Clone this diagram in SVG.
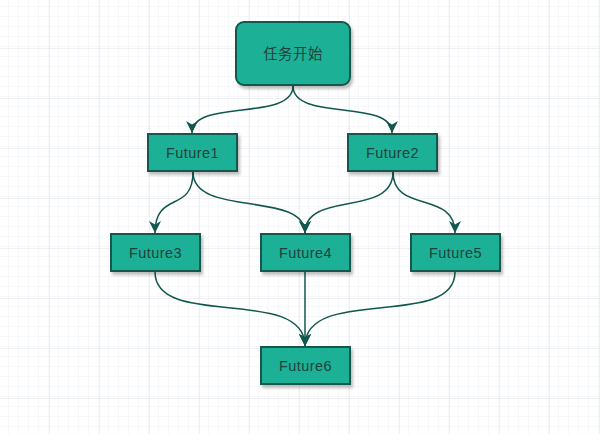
<svg xmlns="http://www.w3.org/2000/svg" width="600" height="434" viewBox="0 0 600 434">
  <defs>
    <pattern id="minor" width="10" height="10" patternUnits="userSpaceOnUse" x="-1" y="-2">
      <path d="M10,0 L0,0 0,10" fill="none" stroke="#f0f2f5" stroke-width="1"/>
    </pattern>
    <pattern id="major" width="50" height="50" patternUnits="userSpaceOnUse" x="-1" y="-2">
      <rect width="50" height="50" fill="url(#minor)"/>
      <path d="M50,0 L0,0 0,50" fill="none" stroke="#dfe2e8" stroke-width="1"/>
    </pattern>
    <filter id="shadow" x="-20%" y="-20%" width="150%" height="160%">
      <feDropShadow dx="2" dy="3" stdDeviation="1.5" flood-color="#000" flood-opacity="0.25"/>
    </filter>
    <marker id="arrow" viewBox="0 0 12 12" refX="12" refY="6" markerWidth="12" markerHeight="12" markerUnits="userSpaceOnUse" orient="auto">
      <path d="M0,0 L12,6 L0,12 L3.5,6 z" fill="#12574d"/>
    </marker>
    <style>
      .box { fill: #1fb197; stroke: #12574d; stroke-width: 2; filter: url(#shadow); }
      .lbl { font-family: "Liberation Sans", Arial, "Noto Sans CJK SC", sans-serif; font-size: 14.5px; fill: #1f413b; text-anchor: middle; dominant-baseline: central; letter-spacing: 0.4px; }
      .edge { fill: none; stroke: #12574d; stroke-width: 1.5; marker-end: url(#arrow); }
    </style>
  </defs>
  <rect width="600" height="434" fill="#ffffff"/>
  <rect width="600" height="434" fill="url(#major)"/>

  <g id="connectors">
    <path class="edge" d="M293,86 C293,122 192,98 192,133"/>
    <path class="edge" d="M293,86 C293,122 392,98 392,133"/>
    <path class="edge" d="M193,172 C193,214 155,190 155,233"/>
    <path class="edge" d="M193,172 C193,218 305,190 305,233"/>
    <path class="edge" d="M393,172 C393,218 305,190 305,233"/>
    <path class="edge" d="M393,172 C393,214 455,190 455,233"/>
    <path class="edge" d="M155,272 C155,330 305,285 305,346"/>
    <path class="edge" d="M305,272 L305,346"/>
    <path class="edge" d="M455,272 C455,330 305,285 305,346"/>
  </g>

  <g id="start">
    <rect class="box" x="236" y="22" width="114" height="63" rx="8" ry="8"/>
    <text class="lbl" x="293" y="54">任务开始</text>
  </g>
  <g id="future1">
    <rect class="box" x="148" y="134" width="89" height="37"/>
    <text class="lbl" x="192.5" y="153">Future1</text>
  </g>
  <g id="future2">
    <rect class="box" x="348" y="134" width="89" height="37"/>
    <text class="lbl" x="392.5" y="153">Future2</text>
  </g>
  <g id="future3">
    <rect class="box" x="111" y="234" width="89" height="37"/>
    <text class="lbl" x="155.5" y="253">Future3</text>
  </g>
  <g id="future4">
    <rect class="box" x="261" y="234" width="89" height="37"/>
    <text class="lbl" x="305.5" y="253">Future4</text>
  </g>
  <g id="future5">
    <rect class="box" x="411" y="234" width="89" height="37"/>
    <text class="lbl" x="455.5" y="253">Future5</text>
  </g>
  <g id="future6">
    <rect class="box" x="261" y="347" width="89" height="37"/>
    <text class="lbl" x="305.5" y="366">Future6</text>
  </g>
</svg>
